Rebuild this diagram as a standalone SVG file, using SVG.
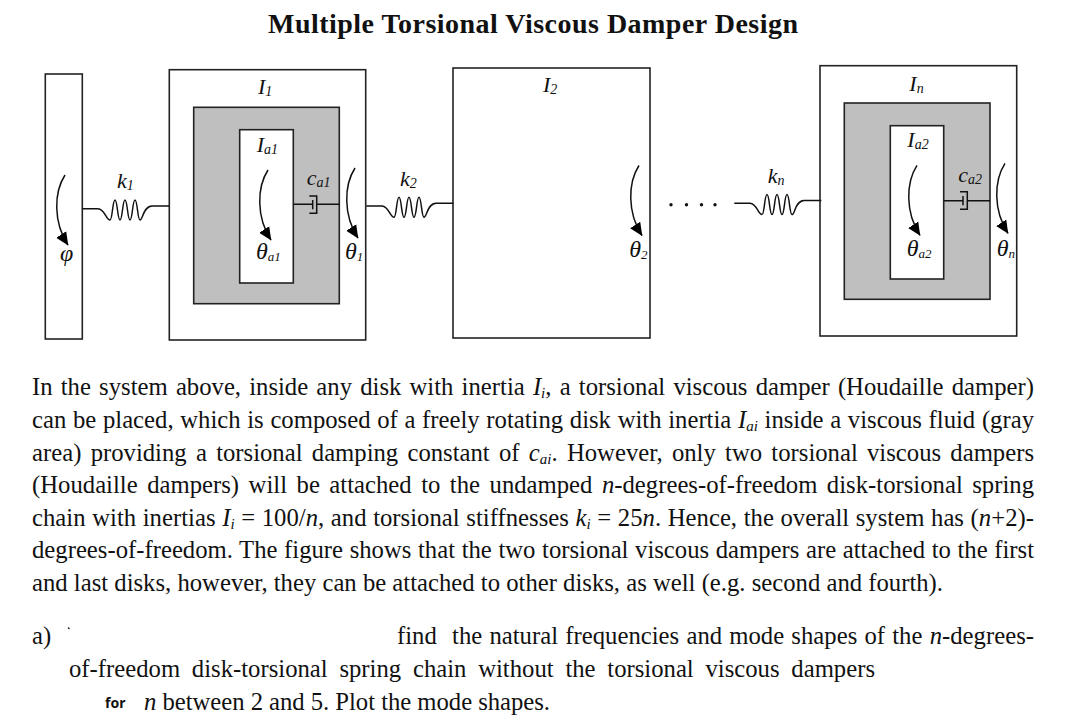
<svg xmlns="http://www.w3.org/2000/svg" width="1071" height="727" viewBox="0 0 1071 727">
<style>
text{font-family:"Liberation Serif","Times New Roman",serif;fill:#111}
.title{font-size:28px;font-weight:700}
.body{font-size:24.7px}
.lab{font-size:22px;font-style:italic}
.lab tspan{font-size:14px}
.th{font-size:24px}
.lab.th tspan{font-size:13px}
.sub{font-size:15px}
.disk{fill:#fff;stroke:#222;stroke-width:1.6}
.fluid{fill:#bfbfbf;stroke:#222;stroke-width:1.6}
.line{fill:none;stroke:#111;stroke-width:1.5}
.arc{fill:none;stroke:#111;stroke-width:1.5;marker-end:url(#head)}
.i{font-style:italic}
</style>
<defs>
<marker id="head" markerUnits="userSpaceOnUse" markerWidth="15" markerHeight="15" refX="12.500" refY="6.500" orient="auto">
<path d="M0 0.500L13 6.500L0 12.500Z" fill="#000"/>
</marker>
<path id="arrow" class="arc" d="M65 175C54 192 53 222 68 245"/>
<path id="spring" class="line" d="M82.300 208.700H98C105 209 106 220 110 220C112.500 220 112.500 200 115 200C117.500 200 117.500 220 120 220C122.500 220 122.500 200 125 200C127.500 200 127.500 220 130 220C132.500 220 132.500 200 135 200C137.500 200 137.500 220 140 220C143 220 143 206.300 152 206H169.300"/>
</defs>
<text class="title" x="268" y="33" textLength="530">Multiple Torsional Viscous Damper Design</text>

<g id="disk-base">
<rect class="disk" x="45.300" y="74" width="37" height="265"/>
<use href="#arrow"/>
<text class="lab th" x="60" y="261">φ</text>
</g>
<g id="disk-1">
<rect class="disk" x="169.300" y="69.700" width="196.400" height="270.300"/>
<text class="lab" x="258" y="94">I<tspan dy="2">1</tspan></text>
<rect class="fluid" x="193.700" y="107.300" width="145.600" height="196.400"/>
<use href="#arrow" x="290" y="-7"/>
<text class="lab th" x="345" y="259">θ<tspan dy="2">1</tspan></text>
</g>
<g id="absorber-1">
<rect class="disk" x="239.700" y="129.700" width="53.600" height="153.300"/>
<text class="lab" x="256.700" y="151.700">I<tspan dy="2">a1</tspan></text>
<use href="#arrow" x="203" y="-5"/>
<text class="lab th" x="256" y="259">θ<tspan dy="2">a1</tspan></text>
</g>
<g id="disk-2">
<rect class="disk" x="453" y="68" width="197" height="270"/>
<text class="lab" x="543" y="92">I<tspan dy="2">2</tspan></text>
<use href="#arrow" x="574" y="-9.500"/>
<text class="lab th" x="629.300" y="257">θ<tspan dy="2">2</tspan></text>
</g>
<g id="disk-n">
<rect class="disk" x="820" y="65.700" width="196.700" height="270.300"/>
<text class="lab" x="909.300" y="90.700">I<tspan dy="2">n</tspan></text>
<rect class="fluid" x="844.300" y="103" width="145.700" height="196.300"/>
<use href="#arrow" x="940" y="-11.700"/>
<text class="lab th" x="996.700" y="255.700">θ<tspan dy="2">n</tspan></text>
</g>
<g id="absorber-2">
<rect class="disk" x="890.300" y="125.700" width="53.400" height="153.300"/>
<text class="lab" x="907.300" y="147.300">I<tspan dy="2">a2</tspan></text>
<use href="#arrow" x="852" y="-9.700"/>
<text class="lab th" x="906.700" y="255.700">θ<tspan dy="2">a2</tspan></text>
</g>

<g id="connectors">
<use href="#spring"/>
<use href="#spring" x="284" y="-2.700"/>
<use href="#spring" x="652" y="-5.400"/>
<path class="line" d="M293.300 204.300H312.700M312.700 200V209.300M309.300 196H316.700V213.300H309.300M316.700 204.300H339.300"/>
<path class="line" d="M943.700 200.700H963M963 196V205.300M960 191.700H967.300V209.300H960M967.300 200.700H990"/>
</g>
<g id="connector-labels">
<text class="lab" x="117" y="188">k<tspan dy="2">1</tspan></text>
<text class="lab" x="400" y="186">k<tspan dy="2">2</tspan></text>
<text class="lab" x="767.700" y="183">k<tspan dy="2">n</tspan></text>
<text class="lab" x="306.700" y="185">c<tspan dy="2">a1</tspan></text>
<text class="lab" x="958.300" y="181.700">c<tspan dy="2">a2</tspan></text>
<g fill="#111"><circle cx="671" cy="204.700" r="1.700"/><circle cx="686.500" cy="204.700" r="1.700"/><circle cx="701.500" cy="204.700" r="1.700"/><circle cx="715" cy="204.700" r="1.700"/></g>
</g>

<g id="paragraph">
<text class="body" x="32" y="394.500" word-spacing="2" textLength="1002">In the system above, inside any disk with inertia <tspan class="i">I</tspan><tspan class="i sub" dy="3">i</tspan><tspan dy="-3">, a torsional viscous damper (Houdaille damper)</tspan></text>
<text class="body" x="32" y="427.500" word-spacing="0.500" textLength="1002">can be placed, which is composed of a freely rotating disk with inertia <tspan class="i">I</tspan><tspan class="i sub" dy="3">ai</tspan><tspan dy="-3"> inside a viscous fluid (gray</tspan></text>
<text class="body" x="32" y="460.500" word-spacing="3.100" textLength="1002">area) providing a torsional damping constant of <tspan class="i">c</tspan><tspan class="i sub" dy="3">ai</tspan><tspan dy="-3">. However, only two torsional viscous dampers</tspan></text>
<text class="body" x="32" y="492.500" word-spacing="3.300" textLength="1002">(Houdaille dampers) will be attached to the undamped <tspan class="i">n</tspan>-degrees-of-freedom disk-torsional spring</text>
<text class="body" x="32" y="525.500" word-spacing="0.400" textLength="1002">chain with inertias <tspan class="i">I</tspan><tspan class="i sub" dy="3">i</tspan><tspan dy="-3"> = 100/</tspan><tspan class="i">n</tspan>, and torsional stiffnesses <tspan class="i">k</tspan><tspan class="i sub" dy="3">i</tspan><tspan dy="-3"> = 25</tspan><tspan class="i">n</tspan>. Hence, the overall system has (<tspan class="i">n</tspan>+2)-</text>
<text class="body" x="32" y="558" word-spacing="0.430" textLength="1002">degrees-of-freedom. The figure shows that the two torsional viscous dampers are attached to the first</text>
<text class="body" x="32" y="590.500" textLength="911">and last disks, however, they can be attached to other disks, as well (e.g. second and fourth).</text>
</g>
<g id="question">
<text class="body" x="32" y="644">a)</text>
<path d="M68 627.500L69.500 629" fill="none" stroke="#222" stroke-width="1.200"/>
<text class="body" x="397" y="644" word-spacing="1" textLength="637">find <tspan dx="8">the</tspan> natural frequencies and mode shapes of the <tspan class="i">n</tspan>-degrees-</text>
<text class="body" x="69" y="677" word-spacing="5.600" textLength="806">of-freedom disk-torsional spring chain without the torsional viscous dampers</text>
<text x="105" y="708" style="font-family:'Noto Sans',sans-serif;font-weight:700;font-size:14px">for</text>
<text class="body" x="144" y="710" textLength="406"><tspan class="i">n</tspan> between 2 and 5. Plot the mode shapes.</text>
</g>
</svg>
